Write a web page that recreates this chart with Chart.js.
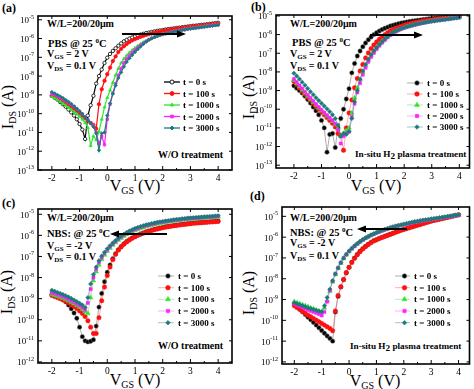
<!DOCTYPE html>
<html><head><meta charset="utf-8">
<script src="https://cdn.jsdelivr.net/npm/chart.js"></script>
<style>
body{margin:0;width:474px;height:389px;position:relative;background:#fff;overflow:hidden;font-family:"Liberation Serif","Times New Roman",serif;color:#000}
canvas{position:absolute}
.t{position:absolute;white-space:nowrap;font-weight:bold;font-size:10px;line-height:10px}
.t sub{font-size:7px;vertical-align:-2px}
.t sup{font-size:7px;vertical-align:4px}
.lab{position:absolute;font-weight:bold;font-size:12px;line-height:12px}
.ax{position:absolute;white-space:nowrap;font-size:16px;line-height:16px;transform:translate(-50%,-50%)}
.ax sub{font-size:10px;vertical-align:-3px}
.rot{transform:translate(-50%,-50%) rotate(-90deg)}
.tr{font-size:9.2px;line-height:9px}
</style></head><body>

<div class="lab" style="left:2px;top:2px">(a)</div>
<div class="lab" style="left:251px;top:1px">(b)</div>
<div class="lab" style="left:2px;top:197px">(c)</div>
<div class="lab" style="left:250px;top:190px">(d)</div>

<div class="ax rot" style="left:10px;top:107px">I<sub>DS</sub> (A)</div>
<div class="ax rot" style="left:251px;top:97px">I<sub>DS</sub> (A)</div>
<div class="ax rot" style="left:9px;top:292px">I<sub>DS</sub> (A)</div>
<div class="ax rot" style="left:251px;top:293px">I<sub>DS</sub> (A)</div>
<div class="ax" style="left:135px;top:188px">V<sub>GS</sub> (V)</div>
<div class="ax" style="left:376px;top:188px">V<sub>GS</sub> (V)</div>
<div class="ax" style="left:135px;top:382px">V<sub>GS</sub> (V)</div>
<div class="ax" style="left:375px;top:383px">V<sub>GS</sub> (V)</div>

<div class="t" style="left:47px;top:19px">W/L=200/20μm</div>
<div class="t" style="left:48px;top:36px;font-size:10.5px">PBS @ 25 <sup>0</sup>C</div>
<div class="t" style="left:47px;top:49px">V<sub>GS</sub> = 2 V</div>
<div class="t" style="left:47px;top:61px">V<sub>DS</sub> = 0.1 V</div>
<div class="t" style="left:158px;top:150px">W/O treatment</div>

<div class="t" style="left:290px;top:19px">W/L=200/20μm</div>
<div class="t" style="left:292px;top:35px;font-size:10.5px">PBS @ 25 <sup>0</sup>C</div>
<div class="t" style="left:290px;top:49px">V<sub>GS</sub> = 2 V</div>
<div class="t" style="left:290px;top:61px">V<sub>DS</sub> = 0.1 V</div>
<div class="t tr" style="left:355px;top:150px">In-situ H<span style="position:relative;top:2px">2</span> plasma treatment</div>

<div class="t" style="left:47px;top:213px">W/L=200/20μm</div>
<div class="t" style="left:47px;top:226px;font-size:10.5px">NBS: @ 25 <sup>0</sup>C</div>
<div class="t" style="left:47px;top:241px">V<sub>GS</sub> = -2 V</div>
<div class="t" style="left:47px;top:252px">V<sub>DS</sub> = 0.1 V</div>
<div class="t" style="left:158px;top:341px">W/O treatment</div>

<div class="t" style="left:290px;top:213px">W/L=200/20μm</div>
<div class="t" style="left:290px;top:225px;font-size:10.5px">NBS: @ 25 <sup>0</sup>C</div>
<div class="t" style="left:290px;top:238px">V<sub>GS</sub> = -2 V</div>
<div class="t" style="left:290px;top:251px">V<sub>DS</sub> = 0.1 V</div>
<div class="t tr" style="left:350px;top:342px">In-situ H<span style="position:relative;top:2px">2</span> plasma treatment</div>

<script>
// gate voltage (V)
const vgs = [-2.0,-1.9,-1.8,-1.7,-1.6,-1.5,-1.4,-1.3,-1.2,-1.1,
  -1.0,-0.9,-0.8,-0.7,-0.6,-0.5,-0.4,-0.3,-0.2,-0.1,
  0.0,0.1,0.2,0.3,0.4,0.5,0.6,0.7,0.8,0.9,
  1.0,1.1,1.2,1.3,1.4,1.5,1.6,1.7,1.8,1.9,
  2.0,2.1,2.2,2.3,2.4,2.5,2.6,2.7,2.8,2.9,
  3.0,3.1,3.2,3.3,3.4,3.5,3.6,3.7,3.8,3.9,4.0];

const seriesNames = ['t = 0 s', 't = 100 s', 't = 1000 s', 't = 2000 s', 't = 3000 s'];
const xTicks = [-2, -1, 0, 1, 2, 3, 4];
const yTicksTop = [-13, -12, -11, -10, -9, -8, -7, -6, -5];
const yTicksBottom = [-12, -11, -10, -9, -8, -7, -6, -5];

// log10(I_DS / A)
// (a) PBS, W/O treatment
const a_t0 = [-9.05,-9.15,-9.25,-9.38,-9.5,-9.63,-9.78,-9.93,-10.1,-10.3,
  -10.55,-10.85,-11.35,-10.1,-9.55,-9.05,-8.4,-8.0,-7.65,-7.3,
  -7.02,-6.82,-6.66,-6.52,-6.38,-6.26,-6.15,-6.07,-6.0,-5.94,
  -5.88,-5.83,-5.79,-5.75,-5.71,-5.68,-5.65,-5.62,-5.59,-5.57,
  -5.55,-5.52,-5.5,-5.48,-5.46,-5.44,-5.42,-5.4,-5.38,-5.36,
  -5.34,-5.32,-5.31,-5.29,-5.27,-5.26,-5.24,-5.22,-5.2,-5.18,-5.16];
const a_t100 = [-9.05,-9.12,-9.2,-9.28,-9.37,-9.46,-9.56,-9.66,-9.77,-9.88,
  -10.0,-10.12,-10.25,-10.38,-10.5,-10.6,-10.8,-9.5,-8.7,-8.25,
  -7.9,-7.55,-7.2,-6.95,-6.72,-6.55,-6.41,-6.29,-6.19,-6.1,
  -6.03,-5.97,-5.91,-5.86,-5.81,-5.77,-5.73,-5.69,-5.66,-5.63,
  -5.6,-5.57,-5.55,-5.52,-5.5,-5.48,-5.46,-5.44,-5.42,-5.4,
  -5.38,-5.36,-5.34,-5.33,-5.31,-5.29,-5.28,-5.26,-5.24,-5.23,-5.21];
const a_t1000 = [-9.1,-9.18,-9.27,-9.36,-9.46,-9.56,-9.67,-9.78,-9.9,-10.02,
  -10.15,-10.3,-10.48,-10.75,-11.7,-11.2,-11.4,-10.95,-10.3,-9.65,
  -9.15,-8.75,-8.35,-7.95,-7.6,-7.3,-7.08,-6.9,-6.75,-6.62,
  -6.5,-6.39,-6.29,-6.2,-6.12,-6.04,-5.97,-5.91,-5.86,-5.81,
  -5.77,-5.73,-5.69,-5.65,-5.62,-5.59,-5.56,-5.53,-5.5,-5.48,
  -5.45,-5.43,-5.41,-5.39,-5.37,-5.35,-5.33,-5.31,-5.29,-5.27,-5.25];
const a_t2000 = [-8.95,-9.0,-9.07,-9.15,-9.23,-9.32,-9.42,-9.52,-9.63,-9.75,
  -9.88,-10.02,-10.17,-10.33,-10.48,-10.65,-11.0,-11.6,-11.2,-11.65,
  -10.3,-9.5,-8.9,-8.4,-7.95,-7.6,-7.3,-7.08,-6.9,-6.75,
  -6.61,-6.48,-6.36,-6.25,-6.15,-6.06,-5.99,-5.93,-5.87,-5.82,
  -5.78,-5.74,-5.7,-5.66,-5.63,-5.6,-5.57,-5.54,-5.52,-5.49,
  -5.47,-5.45,-5.43,-5.41,-5.39,-5.37,-5.35,-5.33,-5.31,-5.29,-5.27];
const a_t3000 = [-8.85,-8.92,-9.0,-9.08,-9.17,-9.27,-9.37,-9.48,-9.6,-9.73,
  -9.87,-10.02,-10.18,-10.35,-10.5,-10.7,-11.05,-11.95,-11.05,-11.0,
  -10.1,-9.45,-8.95,-8.5,-8.1,-7.8,-7.5,-7.25,-7.05,-6.88,
  -6.72,-6.57,-6.43,-6.3,-6.18,-6.08,-6.0,-5.93,-5.87,-5.82,
  -5.78,-5.74,-5.7,-5.67,-5.64,-5.61,-5.58,-5.55,-5.53,-5.5,
  -5.48,-5.46,-5.44,-5.42,-5.4,-5.38,-5.36,-5.34,-5.32,-5.3,-5.28];

// (b) PBS, in-situ H2 plasma treatment
const b_t0 = [-8.74,-8.87,-9.0,-9.13,-9.3,-9.48,-9.67,-9.88,-10.08,-10.3,
  -10.6,-11.0,-12.3,-11.35,-11.3,-12.05,-11.0,-10.5,-10.0,-9.45,
  -8.9,-8.05,-7.55,-7.15,-6.88,-6.65,-6.45,-6.28,-6.13,-6.0,
  -5.9,-5.81,-5.73,-5.66,-5.6,-5.54,-5.49,-5.45,-5.41,-5.38,
  -5.35,-5.32,-5.29,-5.27,-5.25,-5.23,-5.21,-5.19,-5.17,-5.15,
  -5.14,-5.12,-5.11,-5.09,-5.08,-5.06,-5.05,-5.04,-5.02,-5.01,-5.0];
const b_t100 = [-8.5,-8.68,-8.86,-9.04,-9.2,-9.36,-9.52,-9.68,-9.84,-10.0,
  -10.15,-10.3,-10.45,-10.6,-10.75,-10.95,-11.3,-11.4,-12.2,-11.0,
  -10.2,-9.5,-8.85,-8.35,-7.95,-7.6,-7.25,-6.98,-6.75,-6.56,
  -6.4,-6.25,-6.12,-6.0,-5.9,-5.81,-5.73,-5.66,-5.6,-5.55,
  -5.5,-5.46,-5.42,-5.38,-5.35,-5.32,-5.29,-5.26,-5.24,-5.22,
  -5.2,-5.18,-5.16,-5.14,-5.12,-5.1,-5.08,-5.06,-5.04,-5.02,-5.0];
const b_t1000 = [-8.45,-8.62,-8.79,-8.96,-9.13,-9.3,-9.46,-9.62,-9.78,-9.93,
  -10.08,-10.22,-10.36,-10.5,-10.65,-10.82,-11.05,-11.45,-11.3,-11.15,
  -11.0,-10.2,-9.4,-8.85,-8.4,-8.0,-7.65,-7.35,-7.1,-6.88,
  -6.69,-6.52,-6.37,-6.23,-6.1,-5.99,-5.89,-5.81,-5.74,-5.68,
  -5.63,-5.58,-5.54,-5.5,-5.46,-5.42,-5.39,-5.36,-5.33,-5.3,
  -5.28,-5.25,-5.23,-5.21,-5.19,-5.17,-5.15,-5.13,-5.11,-5.09,-5.07];
const b_t2000 = [-8.38,-8.55,-8.72,-8.89,-9.06,-9.23,-9.4,-9.56,-9.72,-9.88,
  -10.03,-10.18,-10.32,-10.46,-10.6,-10.78,-11.1,-11.84,-11.45,-11.3,
  -11.2,-10.4,-9.7,-9.1,-8.6,-8.15,-7.78,-7.46,-7.2,-6.98,
  -6.78,-6.6,-6.44,-6.29,-6.15,-6.03,-5.93,-5.84,-5.77,-5.7,
  -5.64,-5.59,-5.55,-5.51,-5.47,-5.43,-5.4,-5.37,-5.34,-5.31,
  -5.29,-5.26,-5.24,-5.22,-5.2,-5.18,-5.16,-5.14,-5.12,-5.1,-5.08];
const b_t3000 = [-8.07,-8.22,-8.38,-8.55,-8.72,-8.89,-9.06,-9.22,-9.38,-9.53,
  -9.68,-9.83,-9.98,-10.13,-10.3,-10.5,-10.85,-11.45,-11.3,-11.35,
  -11.2,-10.5,-9.6,-9.0,-8.4,-7.95,-7.6,-7.32,-7.08,-6.88,
  -6.7,-6.53,-6.38,-6.24,-6.1,-5.98,-5.88,-5.8,-5.73,-5.67,
  -5.62,-5.58,-5.54,-5.5,-5.46,-5.43,-5.4,-5.37,-5.34,-5.31,
  -5.29,-5.27,-5.25,-5.23,-5.21,-5.19,-5.17,-5.15,-5.13,-5.11,-5.09];

// (c) NBS, W/O treatment
const c_t0 = [-8.8,-8.85,-8.9,-8.96,-9.05,-9.15,-9.3,-9.48,-9.68,-9.93,
  -10.35,-10.8,-11.0,-11.05,-11.02,-10.95,-10.3,-9.4,-8.75,-8.2,
  -7.75,-7.4,-7.1,-6.87,-6.68,-6.53,-6.4,-6.29,-6.2,-6.12,
  -6.05,-5.99,-5.93,-5.88,-5.83,-5.79,-5.75,-5.71,-5.68,-5.65,
  -5.62,-5.59,-5.57,-5.55,-5.53,-5.51,-5.49,-5.47,-5.46,-5.44,
  -5.43,-5.41,-5.4,-5.39,-5.38,-5.37,-5.36,-5.35,-5.34,-5.33,-5.32];
const c_t100 = [-8.85,-8.9,-8.95,-9.0,-9.06,-9.12,-9.2,-9.28,-9.37,-9.47,
  -9.58,-9.7,-9.85,-10.05,-10.35,-10.65,-10.65,-9.9,-9.1,-8.45,
  -7.9,-7.5,-7.15,-6.9,-6.7,-6.55,-6.42,-6.31,-6.22,-6.14,
  -6.07,-6.0,-5.95,-5.9,-5.85,-5.81,-5.77,-5.73,-5.7,-5.67,
  -5.64,-5.61,-5.59,-5.57,-5.55,-5.53,-5.51,-5.49,-5.48,-5.46,
  -5.45,-5.43,-5.42,-5.41,-5.4,-5.39,-5.38,-5.37,-5.36,-5.35,-5.34];
const c_t1000 = [-8.8,-8.84,-8.88,-8.93,-8.98,-9.04,-9.1,-9.17,-9.24,-9.32,
  -9.4,-9.5,-9.62,-9.7,-8.95,-8.15,-7.72,-7.4,-7.14,-6.93,
  -6.75,-6.6,-6.46,-6.34,-6.23,-6.13,-6.04,-5.96,-5.89,-5.83,
  -5.77,-5.72,-5.67,-5.63,-5.59,-5.55,-5.52,-5.49,-5.46,-5.43,
  -5.41,-5.38,-5.36,-5.34,-5.32,-5.3,-5.29,-5.27,-5.26,-5.24,
  -5.23,-5.22,-5.21,-5.2,-5.19,-5.18,-5.17,-5.16,-5.15,-5.14,-5.13];
const c_t2000 = [-8.72,-8.76,-8.8,-8.85,-8.9,-8.96,-9.02,-9.09,-9.16,-9.24,
  -9.32,-9.42,-9.52,-9.2,-8.55,-8.0,-7.6,-7.28,-7.05,-6.85,
  -6.68,-6.53,-6.4,-6.28,-6.17,-6.07,-5.98,-5.9,-5.83,-5.77,
  -5.71,-5.66,-5.61,-5.57,-5.53,-5.5,-5.47,-5.44,-5.41,-5.38,
  -5.36,-5.34,-5.32,-5.3,-5.28,-5.26,-5.25,-5.23,-5.22,-5.2,
  -5.19,-5.18,-5.17,-5.16,-5.15,-5.14,-5.13,-5.12,-5.11,-5.1,-5.09];
const c_t3000 = [-8.6,-8.65,-8.7,-8.75,-8.8,-8.86,-8.92,-8.99,-9.06,-9.14,
  -9.22,-9.3,-9.42,-8.95,-8.3,-7.85,-7.5,-7.2,-6.98,-6.8,
  -6.63,-6.49,-6.36,-6.24,-6.13,-6.03,-5.94,-5.86,-5.79,-5.73,
  -5.67,-5.62,-5.58,-5.54,-5.5,-5.47,-5.44,-5.41,-5.38,-5.36,
  -5.34,-5.32,-5.3,-5.28,-5.26,-5.24,-5.23,-5.21,-5.2,-5.18,
  -5.17,-5.16,-5.15,-5.14,-5.13,-5.12,-5.11,-5.1,-5.09,-5.08,-5.07];

// (d) NBS, in-situ H2 plasma treatment
const d_t0 = [-9.2,-9.33,-9.46,-9.59,-9.72,-9.85,-9.97,-10.1,-10.23,-10.36,
  -10.49,-10.62,-10.75,-10.87,-11.0,-9.6,-8.85,-8.4,-8.05,-7.72,
  -7.45,-7.2,-7.0,-6.83,-6.68,-6.55,-6.44,-6.34,-6.25,-6.17,
  -6.12,-6.06,-6.01,-5.96,-5.91,-5.86,-5.81,-5.76,-5.71,-5.66,
  -5.62,-5.58,-5.54,-5.5,-5.46,-5.42,-5.38,-5.34,-5.3,-5.26,
  -5.22,-5.19,-5.16,-5.13,-5.1,-5.07,-5.04,-5.01,-4.98,-4.95,-4.92];
const d_t100 = [-9.3,-9.39,-9.48,-9.57,-9.66,-9.75,-9.83,-9.91,-9.99,-10.07,
  -10.15,-10.23,-10.31,-10.39,-10.5,-9.55,-8.8,-8.38,-8.03,-7.7,
  -7.45,-7.22,-7.02,-6.85,-6.7,-6.57,-6.46,-6.36,-6.27,-6.19,
  -6.13,-6.07,-6.02,-5.97,-5.92,-5.87,-5.82,-5.77,-5.72,-5.67,
  -5.63,-5.59,-5.55,-5.51,-5.47,-5.43,-5.39,-5.35,-5.31,-5.27,
  -5.23,-5.2,-5.17,-5.14,-5.11,-5.08,-5.05,-5.02,-4.99,-4.96,-4.93];
const d_t1000 = [-9.1,-9.15,-9.2,-9.25,-9.3,-9.35,-9.4,-9.45,-9.5,-9.55,
  -9.58,-9.4,-9.05,-8.6,-8.15,-7.8,-7.5,-7.25,-7.03,-6.85,
  -6.69,-6.55,-6.43,-6.32,-6.22,-6.13,-6.05,-5.98,-5.91,-5.85,
  -5.79,-5.74,-5.69,-5.64,-5.6,-5.56,-5.52,-5.48,-5.45,-5.42,
  -5.39,-5.36,-5.33,-5.3,-5.27,-5.25,-5.22,-5.2,-5.18,-5.16,
  -5.14,-5.12,-5.1,-5.08,-5.06,-5.04,-5.02,-5.0,-4.98,-4.96,-4.94];
const d_t2000 = [-9.2,-9.26,-9.32,-9.38,-9.44,-9.5,-9.55,-9.6,-9.65,-9.7,
  -9.77,-9.6,-9.1,-8.55,-8.1,-7.75,-7.47,-7.22,-7.0,-6.83,
  -6.68,-6.55,-6.43,-6.32,-6.22,-6.13,-6.05,-5.98,-5.91,-5.85,
  -5.79,-5.74,-5.69,-5.64,-5.6,-5.56,-5.52,-5.48,-5.45,-5.42,
  -5.39,-5.36,-5.33,-5.3,-5.27,-5.25,-5.22,-5.2,-5.18,-5.16,
  -5.14,-5.12,-5.1,-5.08,-5.06,-5.04,-5.02,-5.0,-4.98,-4.96,-4.94];
const d_t3000 = [-9.15,-9.2,-9.25,-9.3,-9.35,-9.4,-9.44,-9.48,-9.52,-9.56,
  -9.6,-9.3,-8.9,-8.5,-8.1,-7.77,-7.48,-7.23,-7.01,-6.83,
  -6.67,-6.54,-6.42,-6.31,-6.21,-6.12,-6.04,-5.97,-5.9,-5.84,
  -5.78,-5.73,-5.68,-5.63,-5.59,-5.55,-5.51,-5.47,-5.44,-5.41,
  -5.38,-5.35,-5.32,-5.29,-5.26,-5.24,-5.21,-5.19,-5.17,-5.15,
  -5.13,-5.11,-5.09,-5.07,-5.05,-5.03,-5.01,-4.99,-4.97,-4.95,-4.93];

const colors = ['#000000', '#ff1010', '#2ee62e', '#ff20ff', '#1b7b7b'];
const fadeColors = ['rgba(90,90,90,0.7)', 'rgba(255,60,60,0.6)', 'rgba(60,220,60,0.6)', 'rgba(255,60,255,0.6)', 'rgba(30,120,120,0.6)'];
const shapes = ['circle', 'circle', 'triangle', 'rect', 'rectRot'];
const FONT = '"Liberation Serif", "Times New Roman", serif';

const panels = [
  { left: 0, top: 0, w: 237, h: 195, pad: { top: 16, right: 5 }, yW: 38, xH: 25,
    xMin: -2.5, xMax: 4.5, yMin: -13, yMax: -4.8, yTicks: yTicksTop,
    series: [a_t0, a_t100, a_t1000, a_t2000, a_t3000], lined: true,
    legend: { x0: 164, x1: 180, tx: 183, rows: [82, 93.5, 105, 116.5, 128] },
    arrow: [122, 34, 186, 34] },
  { left: 237, top: 0, w: 237, h: 195, pad: { top: 15, right: 4 }, yW: 39, xH: 27,
    xMin: -2.65, xMax: 4.37, yMin: -13.15, yMax: -4.95, yTicks: yTicksTop,
    series: [b_t0, b_t100, b_t1000, b_t2000, b_t3000], lined: false,
    legend: { x0: 170, x1: 186, tx: 190, rows: [83, 94, 105, 116, 127] },
    arrow: [133, 35, 186, 35] },
  { left: 0, top: 195, w: 237, h: 194, pad: { top: 14, right: 5 }, yW: 38, xH: 26,
    xMin: -2.5, xMax: 4.5, yMin: -12.05, yMax: -4.75, yTicks: yTicksBottom,
    series: [c_t0, c_t100, c_t1000, c_t2000, c_t3000], lined: false,
    legend: { x0: 158, x1: 174, tx: 178, rows: [81, 92.7, 104.3, 116, 127.7] },
    arrow: [167, 39, 110, 39] },
  { left: 237, top: 195, w: 237, h: 194, pad: { top: 12, right: 3 }, yW: 45, xH: 25,
    xMin: -2.45, xMax: 4.4, yMin: -12.1, yMax: -4.55, yTicks: yTicksBottom,
    series: [d_t0, d_t100, d_t1000, d_t2000, d_t3000], lined: false,
    legend: { x0: 158, x1: 173, tx: 177, rows: [81, 92.7, 104.3, 116, 127.7] },
    arrow: [170, 34, 120, 34] }
];

function marker(ctx, i, lined, cx, cy) {
  ctx.save();
  ctx.fillStyle = (lined && i === 0) ? '#fff' : colors[i];
  ctx.strokeStyle = (!lined && i === 0) ? '#777' : colors[i];
  ctx.lineWidth = lined ? 0.9 : 0.6;
  const r = lined ? 2 : (i === 2 ? 2.8 : 2.3);
  Chart.helpers.drawPoint(ctx, { pointStyle: shapes[i], radius: r, borderWidth: ctx.lineWidth, rotation: 0 }, cx, cy);
  ctx.restore();
}

function decorations(p) {
  return {
    id: 'decorations',
    afterDraw(chart) {
      const { ctx, chartArea: ca, scales: { x, y } } = chart;
      ctx.save();
      ctx.strokeStyle = '#000';
      ctx.lineWidth = 1;
      ctx.beginPath();
      xTicks.forEach(v => {
        const px = x.getPixelForValue(v);
        ctx.moveTo(px, ca.bottom); ctx.lineTo(px, ca.bottom - 4);
        ctx.moveTo(px, ca.top); ctx.lineTo(px, ca.top + 3);
        const hx = x.getPixelForValue(v + 0.5);
        if (hx < ca.right) { ctx.moveTo(hx, ca.bottom); ctx.lineTo(hx, ca.bottom - 2); }
      });
      p.yTicks.forEach(v => {
        const py = y.getPixelForValue(v);
        ctx.moveTo(ca.left, py); ctx.lineTo(ca.left + 4, py);
        ctx.moveTo(ca.right, py); ctx.lineTo(ca.right - 3, py);
      });
      ctx.stroke();
      ctx.lineWidth = 1.6;
      ctx.strokeRect(ca.left, ca.top, ca.right - ca.left, ca.bottom - ca.top);

      // y tick labels as 10^n
      ctx.fillStyle = '#000';
      p.yTicks.forEach(v => {
        const py = y.getPixelForValue(v);
        const ex = String(v);
        ctx.font = '6px ' + FONT;
        const we = ctx.measureText(ex).width;
        ctx.font = '9px ' + FONT;
        const wb = ctx.measureText('10').width;
        const right = ca.left - 4;
        ctx.fillText('10', right - we - wb, py + 3.5);
        ctx.font = '6px ' + FONT;
        ctx.fillText(ex, right - we, py - 1);
      });

      // legend
      const lg = p.legend;
      seriesNames.forEach((name, i) => {
        const ly = lg.rows[i];
        ctx.strokeStyle = p.lined ? colors[i] : fadeColors[i];
        ctx.lineWidth = p.lined ? 1.3 : 0.7;
        ctx.beginPath(); ctx.moveTo(lg.x0, ly); ctx.lineTo(lg.x1, ly); ctx.stroke();
        marker(ctx, i, p.lined, (lg.x0 + lg.x1) / 2 + (p.lined ? 0 : 2), ly);
        ctx.fillStyle = '#000';
        ctx.font = 'bold 9px ' + FONT;
        ctx.fillText(name, lg.tx, ly + 3);
      });

      // stress-direction arrow
      const [x0, y0, x1, y1] = p.arrow;
      const dir = Math.sign(x1 - x0);
      ctx.strokeStyle = '#000'; ctx.fillStyle = '#000'; ctx.lineWidth = 1.8;
      ctx.beginPath(); ctx.moveTo(x0, y0); ctx.lineTo(x1 - dir * 6, y1); ctx.stroke();
      ctx.beginPath();
      ctx.moveTo(x1, y1); ctx.lineTo(x1 - dir * 9, y1 - 3.5); ctx.lineTo(x1 - dir * 9, y1 + 3.5);
      ctx.closePath(); ctx.fill();
      ctx.restore();
    }
  };
}

panels.forEach(p => {
  const cv = document.createElement('canvas');
  cv.width = p.w; cv.height = p.h;
  cv.style.left = p.left + 'px'; cv.style.top = p.top + 'px';
  document.body.appendChild(cv);

  const datasets = p.series.map((vals, i) => ({
    label: seriesNames[i],
    data: vgs.map((v, k) => ({ x: v, y: vals[k] })),
    borderColor: p.lined ? colors[i] : fadeColors[i],
    borderWidth: p.lined ? 1.2 : 0.7,
    pointStyle: shapes[i],
    pointRadius: p.lined ? 1.7 : (i === 2 ? 2.7 : 2.2),
    pointBorderWidth: p.lined ? 0.8 : 0.5,
    pointBackgroundColor: (p.lined && i === 0) ? '#fff' : colors[i],
    pointBorderColor: (!p.lined && i === 0) ? '#777' : colors[i],
    tension: 0,
    fill: false
  })).reverse();

  new Chart(cv.getContext('2d'), {
    type: 'line',
    data: { datasets },
    options: {
      responsive: false,
      animation: false,
      devicePixelRatio: 1,
      layout: { padding: { top: p.pad.top, right: p.pad.right, left: 0, bottom: 0 } },
      plugins: { legend: { display: false }, tooltip: { enabled: false } },
      scales: {
        x: {
          type: 'linear', min: p.xMin, max: p.xMax,
          grid: { display: false, drawTicks: false }, border: { display: false },
          afterBuildTicks: s => { s.ticks = xTicks.map(v => ({ value: v })); },
          afterFit: s => { s.height = p.xH; },
          ticks: { color: '#000', padding: 3, maxRotation: 0, autoSkip: false,
                   font: { family: FONT, size: 9.5 } }
        },
        y: {
          type: 'linear', min: p.yMin, max: p.yMax,
          grid: { display: false, drawTicks: false }, border: { display: false },
          ticks: { display: false },
          afterFit: s => { s.width = p.yW; }
        }
      }
    },
    plugins: [decorations(p)]
  });
});
</script>
</body></html>
